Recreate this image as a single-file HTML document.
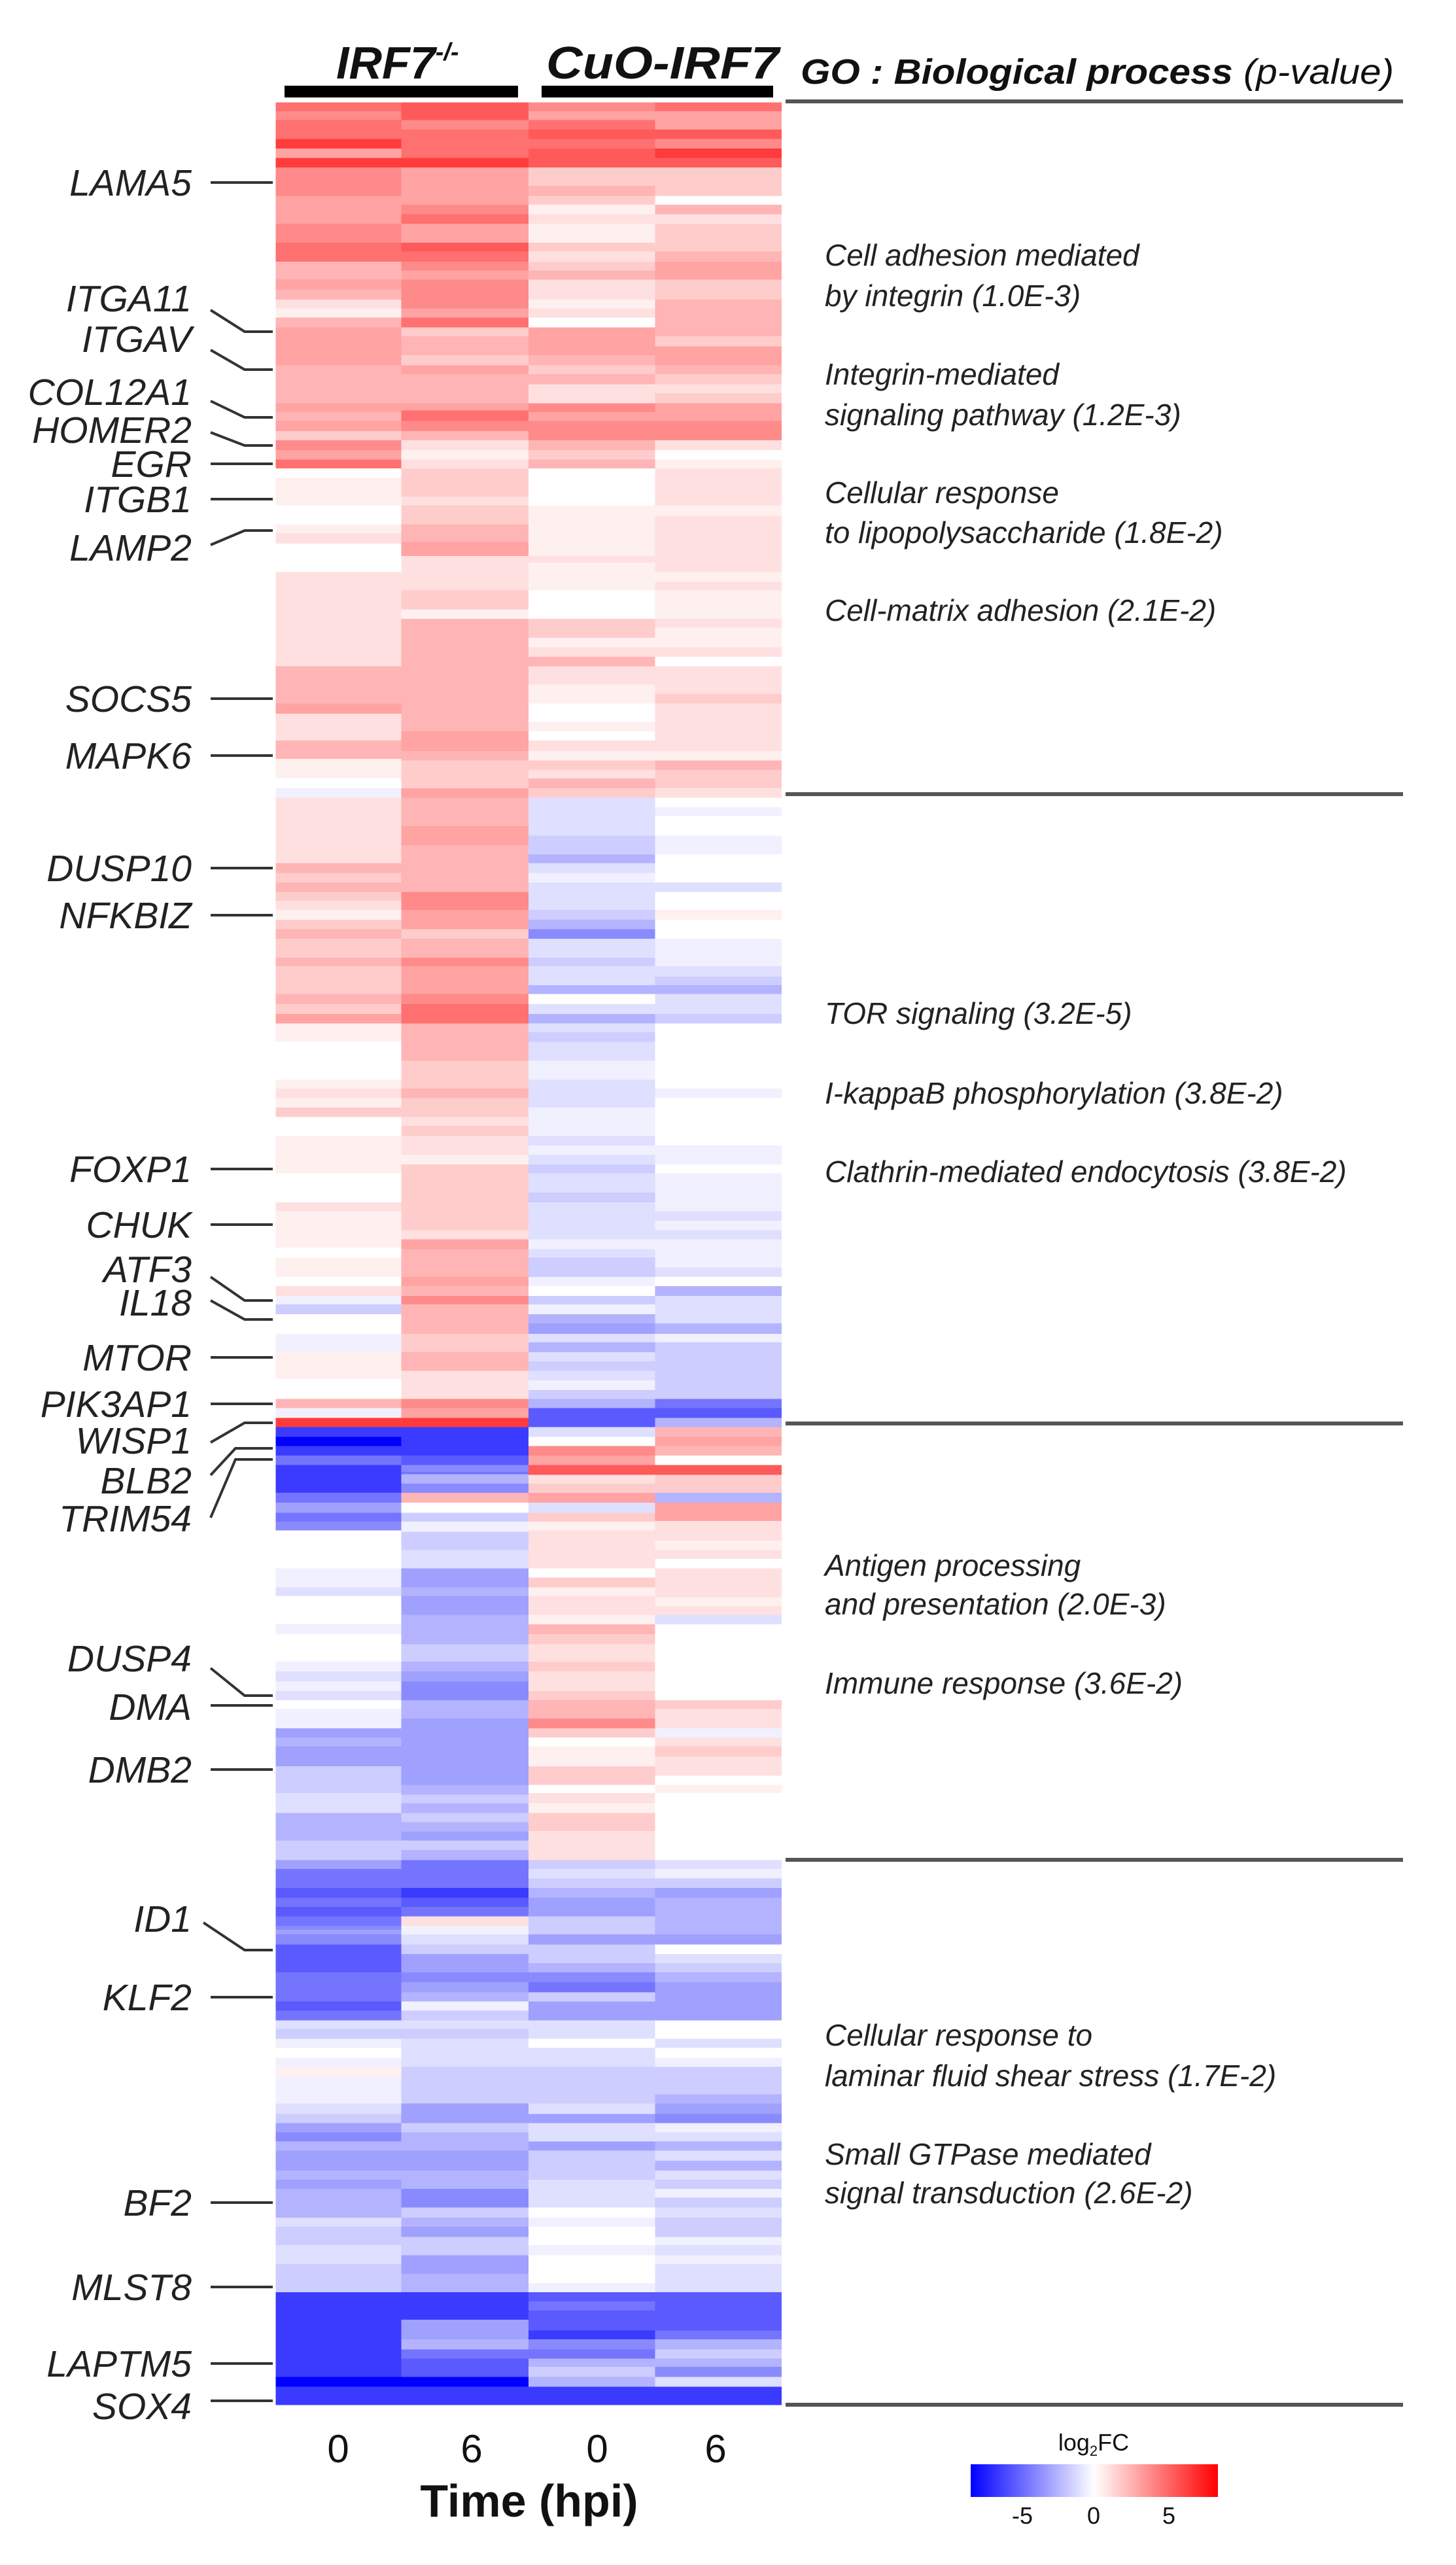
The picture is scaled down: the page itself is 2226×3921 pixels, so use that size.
<!DOCTYPE html>
<html><head><meta charset="utf-8">
<style>
html,body{margin:0;padding:0;background:#fff;}
svg{display:block;}
.r9{fill:#ff3b3b}.r8{fill:#ff5a5a}.r7{fill:#ff7070}.r6{fill:#ff8a8a}.r5{fill:#ffa3a3}.r4{fill:#ffb5b5}.r3{fill:#ffcccc}.r2{fill:#ffe0e0}.r1{fill:#fff0f0}
.b10{fill:#0000ff}.b9{fill:#3b3bff}.b8{fill:#5a5aff}.b7{fill:#7474ff}.b6{fill:#8a8aff}.b5{fill:#a0a0ff}.b4{fill:#b3b3ff}.b3{fill:#cdcdff}.b2{fill:#dfdfff}.b1{fill:#f0f0ff}
.g{font-family:"Liberation Sans",sans-serif;font-style:italic;font-size:57px;fill:#222;text-anchor:end}
.go{font-family:"Liberation Sans",sans-serif;font-style:italic;font-size:46px;fill:#222}
.t{font-family:"Liberation Sans",sans-serif;fill:#111}
</style></head>
<body>
<svg width="2226" height="3921" viewBox="0 0 2226 3921" xmlns="http://www.w3.org/2000/svg">
<rect width="2226" height="3921" fill="#fff"/>
<g shape-rendering="crispEdges">
<!-- chunk 1 -->
<g transform="translate(420,150) scale(0.5,0.4464)">
<rect class="r7" x="3" width="384" y="15" height="30"/><rect class="r6" x="3" width="384" y="45" height="30"/><rect class="r7" x="3" width="384" y="75" height="65"/><rect class="r9" x="3" width="384" y="140" height="32"/><rect class="r5" x="3" width="384" y="172" height="33"/><rect class="r9" x="3" width="384" y="205" height="33"/><rect class="r6" x="3" width="384" y="238" height="32"/><rect class="r6" x="3" width="384" y="270" height="65"/><rect class="r5" x="3" width="384" y="335" height="95"/><rect class="r6" x="3" width="384" y="430" height="65"/><rect class="r7" x="3" width="384" y="495" height="65"/><rect class="r4" x="3" width="384" y="560" height="60"/><rect class="r5" x="3" width="384" y="620" height="35"/><rect class="r4" x="3" width="384" y="655" height="35"/><rect class="r2" x="3" width="384" y="690" height="30"/><rect class="r1" x="3" width="384" y="720" height="32"/><rect class="r4" x="3" width="384" y="752" height="33"/><rect class="r5" x="3" width="384" y="785" height="95"/><rect class="r5" x="3" width="384" y="880" height="35"/><rect class="r4" x="3" width="384" y="915" height="130"/><rect class="r5" x="3" width="384" y="1045" height="30"/><rect class="r4" x="3" width="384" y="1075" height="30"/><rect class="r5" x="3" width="384" y="1105" height="35"/><rect class="r3" x="3" width="384" y="1140" height="32"/><rect class="r6" x="3" width="384" y="1172" height="33"/><rect class="r5" x="3" width="384" y="1205" height="33"/><rect class="r7" x="3" width="384" y="1238" height="30"/><rect class="r1" x="3" width="384" y="1300" height="95"/><rect class="r1" x="3" width="384" y="1460" height="30"/><rect class="r2" x="3" width="384" y="1490" height="35"/>
<rect class="r8" x="387" width="389" y="15" height="60"/><rect class="r6" x="387" width="389" y="75" height="33"/><rect class="r7" x="387" width="389" y="108" height="97"/><rect class="r9" x="387" width="389" y="205" height="33"/><rect class="r5" x="387" width="389" y="238" height="32"/><rect class="r5" x="387" width="389" y="270" height="95"/><rect class="r6" x="387" width="389" y="365" height="33"/><rect class="r7" x="387" width="389" y="398" height="32"/><rect class="r5" x="387" width="389" y="430" height="65"/><rect class="r8" x="387" width="389" y="495" height="30"/><rect class="r7" x="387" width="389" y="525" height="35"/><rect class="r6" x="387" width="389" y="560" height="30"/><rect class="r5" x="387" width="389" y="590" height="32"/><rect class="r6" x="387" width="389" y="622" height="98"/><rect class="r5" x="387" width="389" y="720" height="32"/><rect class="r7" x="387" width="389" y="752" height="33"/><rect class="r3" x="387" width="389" y="785" height="30"/><rect class="r4" x="387" width="389" y="815" height="65"/><rect class="r3" x="387" width="389" y="880" height="35"/><rect class="r5" x="387" width="389" y="915" height="30"/><rect class="r4" x="387" width="389" y="945" height="100"/><rect class="r5" x="387" width="389" y="1045" height="25"/><rect class="r7" x="387" width="389" y="1070" height="35"/><rect class="r6" x="387" width="389" y="1105" height="35"/><rect class="r4" x="387" width="389" y="1140" height="32"/><rect class="r2" x="387" width="389" y="1172" height="33"/><rect class="r1" x="387" width="389" y="1205" height="33"/><rect class="r2" x="387" width="389" y="1238" height="30"/><rect class="r3" x="387" width="389" y="1268" height="97"/><rect class="r2" x="387" width="389" y="1365" height="30"/><rect class="r3" x="387" width="389" y="1395" height="65"/><rect class="r4" x="387" width="389" y="1460" height="60"/><rect class="r5" x="387" width="389" y="1520" height="48"/>
<rect class="r6" x="776" width="387" y="15" height="30"/><rect class="r5" x="776" width="387" y="45" height="30"/><rect class="r7" x="776" width="387" y="75" height="33"/><rect class="r8" x="776" width="387" y="108" height="32"/><rect class="r7" x="776" width="387" y="140" height="32"/><rect class="r8" x="776" width="387" y="172" height="66"/><rect class="r3" x="776" width="387" y="238" height="62"/><rect class="r4" x="776" width="387" y="300" height="35"/><rect class="r3" x="776" width="387" y="335" height="30"/><rect class="r1" x="776" width="387" y="365" height="33"/><rect class="r2" x="776" width="387" y="398" height="32"/><rect class="r1" x="776" width="387" y="430" height="65"/><rect class="r3" x="776" width="387" y="495" height="30"/><rect class="r2" x="776" width="387" y="525" height="35"/><rect class="r3" x="776" width="387" y="560" height="30"/><rect class="r4" x="776" width="387" y="590" height="32"/><rect class="r2" x="776" width="387" y="622" height="68"/><rect class="r1" x="776" width="387" y="690" height="30"/><rect class="r2" x="776" width="387" y="720" height="32"/><rect class="r5" x="776" width="387" y="785" height="95"/><rect class="r4" x="776" width="387" y="880" height="35"/><rect class="r3" x="776" width="387" y="915" height="30"/><rect class="r4" x="776" width="387" y="945" height="35"/><rect class="r2" x="776" width="387" y="980" height="65"/><rect class="r6" x="776" width="387" y="1045" height="30"/><rect class="r5" x="776" width="387" y="1075" height="30"/><rect class="r6" x="776" width="387" y="1105" height="67"/><rect class="r4" x="776" width="387" y="1172" height="33"/><rect class="r3" x="776" width="387" y="1205" height="33"/><rect class="r4" x="776" width="387" y="1238" height="30"/><rect class="r1" x="776" width="387" y="1395" height="173"/>
<rect class="r7" x="1163" width="387" y="15" height="30"/><rect class="r5" x="1163" width="387" y="45" height="63"/><rect class="r8" x="1163" width="387" y="108" height="32"/><rect class="r6" x="1163" width="387" y="140" height="32"/><rect class="r9" x="1163" width="387" y="172" height="33"/><rect class="r8" x="1163" width="387" y="205" height="33"/><rect class="r3" x="1163" width="387" y="238" height="97"/><rect class="r4" x="1163" width="387" y="365" height="33"/><rect class="r2" x="1163" width="387" y="398" height="32"/><rect class="r3" x="1163" width="387" y="430" height="95"/><rect class="r4" x="1163" width="387" y="525" height="35"/><rect class="r5" x="1163" width="387" y="560" height="62"/><rect class="r3" x="1163" width="387" y="622" height="68"/><rect class="r4" x="1163" width="387" y="690" height="62"/><rect class="r4" x="1163" width="387" y="752" height="33"/><rect class="r4" x="1163" width="387" y="785" height="30"/><rect class="r3" x="1163" width="387" y="815" height="35"/><rect class="r5" x="1163" width="387" y="850" height="65"/><rect class="r4" x="1163" width="387" y="915" height="30"/><rect class="r3" x="1163" width="387" y="945" height="35"/><rect class="r2" x="1163" width="387" y="980" height="30"/><rect class="r3" x="1163" width="387" y="1010" height="35"/><rect class="r5" x="1163" width="387" y="1045" height="60"/><rect class="r6" x="1163" width="387" y="1105" height="67"/><rect class="r2" x="1163" width="387" y="1172" height="33"/><rect class="r1" x="1163" width="387" y="1238" height="30"/><rect class="r2" x="1163" width="387" y="1268" height="127"/><rect class="r1" x="1163" width="387" y="1395" height="35"/><rect class="r2" x="1163" width="387" y="1430" height="138"/>
</g>
<!-- chunk 2 -->
<g transform="translate(420,850) scale(0.5,0.4464)">
<rect class="r2" x="3" width="384" y="55" height="323"/><rect class="r4" x="3" width="384" y="378" height="127"/><rect class="r5" x="3" width="384" y="505" height="35"/><rect class="r2" x="3" width="384" y="540" height="92"/><rect class="r4" x="3" width="384" y="632" height="63"/><rect class="r1" x="3" width="384" y="695" height="65"/><rect class="b1" x="3" width="384" y="795" height="33"/><rect class="r2" x="3" width="384" y="828" height="224"/><rect class="r4" x="3" width="384" y="1052" height="33"/><rect class="r3" x="3" width="384" y="1085" height="33"/><rect class="r4" x="3" width="384" y="1118" height="32"/><rect class="r3" x="3" width="384" y="1150" height="30"/><rect class="r2" x="3" width="384" y="1180" height="32"/><rect class="r1" x="3" width="384" y="1212" height="33"/><rect class="r3" x="3" width="384" y="1245" height="33"/><rect class="r4" x="3" width="384" y="1278" height="32"/><rect class="r3" x="3" width="384" y="1310" height="65"/><rect class="r4" x="3" width="384" y="1375" height="30"/><rect class="r3" x="3" width="384" y="1405" height="95"/><rect class="r4" x="3" width="384" y="1500" height="35"/><rect class="r3" x="3" width="384" y="1535" height="33"/>
<rect class="r2" x="387" width="389" y="0" height="118"/><rect class="r3" x="387" width="389" y="118" height="65"/><rect class="r1" x="387" width="389" y="183" height="32"/><rect class="r4" x="387" width="389" y="215" height="325"/><rect class="r4" x="387" width="389" y="540" height="60"/><rect class="r5" x="387" width="389" y="600" height="68"/><rect class="r4" x="387" width="389" y="668" height="32"/><rect class="r3" x="387" width="389" y="700" height="95"/><rect class="r5" x="387" width="389" y="795" height="33"/><rect class="r4" x="387" width="389" y="828" height="97"/><rect class="r5" x="387" width="389" y="925" height="65"/><rect class="r4" x="387" width="389" y="990" height="128"/><rect class="r4" x="387" width="389" y="1118" height="32"/><rect class="r6" x="387" width="389" y="1150" height="62"/><rect class="r5" x="387" width="389" y="1212" height="66"/><rect class="r3" x="387" width="389" y="1278" height="32"/><rect class="r4" x="387" width="389" y="1310" height="65"/><rect class="r6" x="387" width="389" y="1375" height="30"/><rect class="r5" x="387" width="389" y="1405" height="95"/><rect class="r6" x="387" width="389" y="1500" height="35"/><rect class="r7" x="387" width="389" y="1535" height="33"/>
<rect class="r2" x="776" width="387" y="0" height="22"/><rect class="r1" x="776" width="387" y="22" height="96"/><rect class="r3" x="776" width="387" y="215" height="65"/><rect class="r1" x="776" width="387" y="280" height="32"/><rect class="r2" x="776" width="387" y="312" height="33"/><rect class="r4" x="776" width="387" y="345" height="33"/><rect class="r2" x="776" width="387" y="378" height="62"/><rect class="r1" x="776" width="387" y="440" height="65"/><rect class="r1" x="776" width="387" y="568" height="32"/><rect class="r2" x="776" width="387" y="632" height="36"/><rect class="r1" x="776" width="387" y="668" height="32"/><rect class="r3" x="776" width="387" y="700" height="32"/><rect class="r2" x="776" width="387" y="732" height="30"/><rect class="r4" x="776" width="387" y="762" height="33"/><rect class="r3" x="776" width="387" y="795" height="33"/><rect class="b2" x="776" width="387" y="828" height="130"/><rect class="b3" x="776" width="387" y="958" height="64"/><rect class="b4" x="776" width="387" y="1022" height="30"/><rect class="b2" x="776" width="387" y="1052" height="33"/><rect class="b1" x="776" width="387" y="1085" height="33"/><rect class="b2" x="776" width="387" y="1118" height="94"/><rect class="b3" x="776" width="387" y="1212" height="33"/><rect class="b4" x="776" width="387" y="1245" height="33"/><rect class="b6" x="776" width="387" y="1278" height="32"/><rect class="b2" x="776" width="387" y="1310" height="65"/><rect class="b3" x="776" width="387" y="1375" height="30"/><rect class="b2" x="776" width="387" y="1405" height="65"/><rect class="b4" x="776" width="387" y="1470" height="30"/><rect class="b2" x="776" width="387" y="1535" height="33"/>
<rect class="r2" x="1163" width="387" y="0" height="55"/><rect class="r1" x="1163" width="387" y="55" height="33"/><rect class="r2" x="1163" width="387" y="88" height="30"/><rect class="r1" x="1163" width="387" y="118" height="97"/><rect class="r2" x="1163" width="387" y="215" height="30"/><rect class="r1" x="1163" width="387" y="245" height="67"/><rect class="r2" x="1163" width="387" y="312" height="33"/><rect class="r2" x="1163" width="387" y="378" height="94"/><rect class="r3" x="1163" width="387" y="472" height="33"/><rect class="r2" x="1163" width="387" y="505" height="163"/><rect class="r1" x="1163" width="387" y="668" height="32"/><rect class="r4" x="1163" width="387" y="700" height="32"/><rect class="r3" x="1163" width="387" y="732" height="63"/><rect class="r2" x="1163" width="387" y="795" height="33"/><rect class="b1" x="1163" width="387" y="860" height="30"/><rect class="b1" x="1163" width="387" y="958" height="64"/><rect class="b2" x="1163" width="387" y="1118" height="32"/><rect class="r1" x="1163" width="387" y="1212" height="33"/><rect class="b1" x="1163" width="387" y="1310" height="95"/><rect class="b2" x="1163" width="387" y="1405" height="35"/><rect class="b3" x="1163" width="387" y="1440" height="30"/><rect class="b4" x="1163" width="387" y="1470" height="30"/><rect class="b2" x="1163" width="387" y="1500" height="68"/>
</g>
<!-- chunk 3 -->
<g transform="translate(420,1550) scale(0.5,0.4464)">
<rect class="r5" x="3" width="384" y="0" height="33"/><rect class="r1" x="3" width="384" y="33" height="62"/><rect class="r1" x="3" width="384" y="225" height="30"/><rect class="r2" x="3" width="384" y="255" height="33"/><rect class="r1" x="3" width="384" y="288" height="32"/><rect class="r3" x="3" width="384" y="320" height="33"/><rect class="r1" x="3" width="384" y="418" height="127"/><rect class="r2" x="3" width="384" y="645" height="30"/><rect class="r1" x="3" width="384" y="675" height="125"/><rect class="r1" x="3" width="384" y="835" height="65"/><rect class="r2" x="3" width="384" y="932" height="33"/><rect class="b1" x="3" width="384" y="965" height="30"/><rect class="b3" x="3" width="384" y="995" height="33"/><rect class="b1" x="3" width="384" y="1095" height="63"/><rect class="r1" x="3" width="384" y="1158" height="92"/><rect class="r4" x="3" width="384" y="1318" height="32"/><rect class="b1" x="3" width="384" y="1350" height="33"/><rect class="r9" x="3" width="384" y="1383" height="32"/><rect class="b9" x="3" width="384" y="1415" height="33"/><rect class="b10" x="3" width="384" y="1448" height="32"/><rect class="b9" x="3" width="384" y="1480" height="32"/><rect class="b7" x="3" width="384" y="1512" height="33"/><rect class="b9" x="3" width="384" y="1545" height="23"/>
<rect class="r7" x="387" width="389" y="0" height="33"/><rect class="r4" x="387" width="389" y="33" height="127"/><rect class="r3" x="387" width="389" y="160" height="95"/><rect class="r4" x="387" width="389" y="255" height="33"/><rect class="r3" x="387" width="389" y="288" height="65"/><rect class="r2" x="387" width="389" y="353" height="30"/><rect class="r3" x="387" width="389" y="383" height="35"/><rect class="r2" x="387" width="389" y="418" height="65"/><rect class="r1" x="387" width="389" y="483" height="32"/><rect class="r3" x="387" width="389" y="515" height="225"/><rect class="r2" x="387" width="389" y="740" height="32"/><rect class="r5" x="387" width="389" y="772" height="33"/><rect class="r4" x="387" width="389" y="805" height="30"/><rect class="r4" x="387" width="389" y="835" height="65"/><rect class="r5" x="387" width="389" y="900" height="32"/><rect class="r4" x="387" width="389" y="932" height="33"/><rect class="r6" x="387" width="389" y="965" height="30"/><rect class="r4" x="387" width="389" y="995" height="100"/><rect class="r3" x="387" width="389" y="1095" height="63"/><rect class="r4" x="387" width="389" y="1158" height="64"/><rect class="r2" x="387" width="389" y="1222" height="96"/><rect class="r6" x="387" width="389" y="1318" height="32"/><rect class="r5" x="387" width="389" y="1350" height="33"/><rect class="r9" x="387" width="389" y="1383" height="32"/><rect class="b9" x="387" width="389" y="1415" height="97"/><rect class="b8" x="387" width="389" y="1512" height="33"/><rect class="b6" x="387" width="389" y="1545" height="23"/>
<rect class="b4" x="776" width="387" y="0" height="33"/><rect class="b2" x="776" width="387" y="33" height="30"/><rect class="b3" x="776" width="387" y="63" height="32"/><rect class="b2" x="776" width="387" y="95" height="65"/><rect class="b1" x="776" width="387" y="160" height="65"/><rect class="b2" x="776" width="387" y="225" height="95"/><rect class="b1" x="776" width="387" y="320" height="98"/><rect class="b2" x="776" width="387" y="418" height="32"/><rect class="b1" x="776" width="387" y="450" height="33"/><rect class="b2" x="776" width="387" y="483" height="32"/><rect class="b3" x="776" width="387" y="515" height="30"/><rect class="b2" x="776" width="387" y="545" height="67"/><rect class="b3" x="776" width="387" y="612" height="33"/><rect class="b2" x="776" width="387" y="645" height="127"/><rect class="b1" x="776" width="387" y="772" height="33"/><rect class="b2" x="776" width="387" y="805" height="30"/><rect class="b3" x="776" width="387" y="835" height="65"/><rect class="b1" x="776" width="387" y="900" height="32"/><rect class="b3" x="776" width="387" y="965" height="30"/><rect class="b1" x="776" width="387" y="995" height="33"/><rect class="b4" x="776" width="387" y="1028" height="32"/><rect class="b5" x="776" width="387" y="1060" height="35"/><rect class="b2" x="776" width="387" y="1095" height="30"/><rect class="b4" x="776" width="387" y="1125" height="33"/><rect class="b2" x="776" width="387" y="1158" height="32"/><rect class="b3" x="776" width="387" y="1190" height="32"/><rect class="b2" x="776" width="387" y="1222" height="33"/><rect class="b1" x="776" width="387" y="1255" height="33"/><rect class="b3" x="776" width="387" y="1288" height="30"/><rect class="b4" x="776" width="387" y="1318" height="32"/><rect class="b8" x="776" width="387" y="1350" height="65"/><rect class="b2" x="776" width="387" y="1415" height="33"/><rect class="r6" x="776" width="387" y="1480" height="32"/><rect class="r5" x="776" width="387" y="1512" height="33"/><rect class="r8" x="776" width="387" y="1545" height="23"/>
<rect class="b3" x="1163" width="387" y="0" height="33"/><rect class="b1" x="1163" width="387" y="255" height="33"/><rect class="b1" x="1163" width="387" y="450" height="65"/><rect class="b1" x="1163" width="387" y="545" height="130"/><rect class="b2" x="1163" width="387" y="675" height="33"/><rect class="b1" x="1163" width="387" y="708" height="32"/><rect class="b2" x="1163" width="387" y="740" height="32"/><rect class="b1" x="1163" width="387" y="772" height="96"/><rect class="b2" x="1163" width="387" y="868" height="32"/><rect class="b4" x="1163" width="387" y="932" height="33"/><rect class="b2" x="1163" width="387" y="965" height="95"/><rect class="b4" x="1163" width="387" y="1060" height="35"/><rect class="b1" x="1163" width="387" y="1095" height="30"/><rect class="b3" x="1163" width="387" y="1125" height="193"/><rect class="b7" x="1163" width="387" y="1318" height="32"/><rect class="b8" x="1163" width="387" y="1350" height="33"/><rect class="b4" x="1163" width="387" y="1383" height="32"/><rect class="r4" x="1163" width="387" y="1415" height="33"/><rect class="r5" x="1163" width="387" y="1448" height="32"/><rect class="r4" x="1163" width="387" y="1480" height="32"/><rect class="r8" x="1163" width="387" y="1545" height="23"/>
</g>
<!-- chunk 4 -->
<g transform="translate(420,2250) scale(0.5,0.4464)">
<rect class="b9" x="3" width="384" y="0" height="72"/><rect class="b7" x="3" width="384" y="72" height="33"/><rect class="b5" x="3" width="384" y="105" height="35"/><rect class="b7" x="3" width="384" y="140" height="30"/><rect class="b6" x="3" width="384" y="170" height="30"/><rect class="b1" x="3" width="384" y="330" height="65"/><rect class="b2" x="3" width="384" y="395" height="30"/><rect class="b1" x="3" width="384" y="522" height="33"/><rect class="b1" x="3" width="384" y="650" height="33"/><rect class="b2" x="3" width="384" y="683" height="35"/><rect class="b1" x="3" width="384" y="718" height="32"/><rect class="b2" x="3" width="384" y="750" height="32"/><rect class="b1" x="3" width="384" y="812" height="66"/><rect class="b5" x="3" width="384" y="878" height="32"/><rect class="b4" x="3" width="384" y="910" height="30"/><rect class="b5" x="3" width="384" y="940" height="68"/><rect class="b3" x="3" width="384" y="1008" height="92"/><rect class="b2" x="3" width="384" y="1100" height="68"/><rect class="b4" x="3" width="384" y="1168" height="94"/><rect class="b3" x="3" width="384" y="1262" height="68"/><rect class="b5" x="3" width="384" y="1330" height="30"/><rect class="b7" x="3" width="384" y="1360" height="65"/><rect class="b8" x="3" width="384" y="1425" height="33"/><rect class="b7" x="3" width="384" y="1458" height="32"/><rect class="b8" x="3" width="384" y="1490" height="32"/><rect class="b7" x="3" width="384" y="1522" height="33"/><rect class="b6" x="3" width="384" y="1555" height="13"/>
<rect class="b7" x="387" width="389" y="0" height="8"/><rect class="b4" x="387" width="389" y="8" height="32"/><rect class="b6" x="387" width="389" y="40" height="32"/><rect class="r4" x="387" width="389" y="72" height="33"/><rect class="b3" x="387" width="389" y="140" height="30"/><rect class="b1" x="387" width="389" y="170" height="35"/><rect class="b3" x="387" width="389" y="205" height="63"/><rect class="b2" x="387" width="389" y="268" height="62"/><rect class="b5" x="387" width="389" y="330" height="65"/><rect class="b4" x="387" width="389" y="395" height="30"/><rect class="b5" x="387" width="389" y="425" height="65"/><rect class="b4" x="387" width="389" y="490" height="100"/><rect class="b3" x="387" width="389" y="590" height="60"/><rect class="b4" x="387" width="389" y="650" height="33"/><rect class="b5" x="387" width="389" y="683" height="35"/><rect class="b6" x="387" width="389" y="718" height="64"/><rect class="b4" x="387" width="389" y="782" height="63"/><rect class="b5" x="387" width="389" y="845" height="227"/><rect class="b4" x="387" width="389" y="1072" height="33"/><rect class="b3" x="387" width="389" y="1105" height="30"/><rect class="b4" x="387" width="389" y="1135" height="33"/><rect class="b3" x="387" width="389" y="1168" height="32"/><rect class="b4" x="387" width="389" y="1200" height="32"/><rect class="b5" x="387" width="389" y="1232" height="30"/><rect class="b3" x="387" width="389" y="1262" height="33"/><rect class="b4" x="387" width="389" y="1295" height="35"/><rect class="b7" x="387" width="389" y="1330" height="95"/><rect class="b9" x="387" width="389" y="1425" height="33"/><rect class="b8" x="387" width="389" y="1458" height="32"/><rect class="b7" x="387" width="389" y="1490" height="32"/><rect class="r2" x="387" width="389" y="1522" height="33"/><rect class="b1" x="387" width="389" y="1555" height="13"/>
<rect class="r8" x="776" width="387" y="0" height="10"/><rect class="r2" x="776" width="387" y="10" height="30"/><rect class="r3" x="776" width="387" y="40" height="32"/><rect class="r5" x="776" width="387" y="72" height="33"/><rect class="b2" x="776" width="387" y="105" height="35"/><rect class="r3" x="776" width="387" y="140" height="30"/><rect class="r1" x="776" width="387" y="170" height="30"/><rect class="r2" x="776" width="387" y="200" height="130"/><rect class="r3" x="776" width="387" y="362" height="33"/><rect class="r1" x="776" width="387" y="395" height="30"/><rect class="r2" x="776" width="387" y="425" height="65"/><rect class="r1" x="776" width="387" y="490" height="32"/><rect class="r4" x="776" width="387" y="522" height="33"/><rect class="r3" x="776" width="387" y="555" height="35"/><rect class="r2" x="776" width="387" y="590" height="60"/><rect class="r3" x="776" width="387" y="650" height="33"/><rect class="r2" x="776" width="387" y="683" height="67"/><rect class="r3" x="776" width="387" y="750" height="32"/><rect class="r4" x="776" width="387" y="782" height="63"/><rect class="r6" x="776" width="387" y="845" height="33"/><rect class="r3" x="776" width="387" y="878" height="32"/><rect class="r1" x="776" width="387" y="940" height="68"/><rect class="r3" x="776" width="387" y="1008" height="64"/><rect class="r2" x="776" width="387" y="1100" height="35"/><rect class="r1" x="776" width="387" y="1135" height="33"/><rect class="r3" x="776" width="387" y="1168" height="62"/><rect class="r2" x="776" width="387" y="1230" height="100"/><rect class="b3" x="776" width="387" y="1330" height="30"/><rect class="b2" x="776" width="387" y="1360" height="32"/><rect class="b3" x="776" width="387" y="1392" height="33"/><rect class="b4" x="776" width="387" y="1425" height="33"/><rect class="b5" x="776" width="387" y="1458" height="64"/><rect class="b3" x="776" width="387" y="1522" height="46"/>
<rect class="r8" x="1163" width="387" y="0" height="10"/><rect class="r3" x="1163" width="387" y="10" height="62"/><rect class="b4" x="1163" width="387" y="72" height="33"/><rect class="r5" x="1163" width="387" y="105" height="63"/><rect class="r2" x="1163" width="387" y="168" height="67"/><rect class="r1" x="1163" width="387" y="235" height="33"/><rect class="r2" x="1163" width="387" y="268" height="30"/><rect class="r2" x="1163" width="387" y="330" height="100"/><rect class="r1" x="1163" width="387" y="430" height="30"/><rect class="r2" x="1163" width="387" y="460" height="30"/><rect class="b2" x="1163" width="387" y="490" height="32"/><rect class="r3" x="1163" width="387" y="782" height="30"/><rect class="r2" x="1163" width="387" y="812" height="66"/><rect class="b1" x="1163" width="387" y="878" height="32"/><rect class="r2" x="1163" width="387" y="910" height="30"/><rect class="r3" x="1163" width="387" y="940" height="35"/><rect class="r2" x="1163" width="387" y="975" height="65"/><rect class="r1" x="1163" width="387" y="1072" height="28"/><rect class="b2" x="1163" width="387" y="1330" height="30"/><rect class="b1" x="1163" width="387" y="1360" height="32"/><rect class="b3" x="1163" width="387" y="1392" height="33"/><rect class="b5" x="1163" width="387" y="1425" height="33"/><rect class="b4" x="1163" width="387" y="1458" height="110"/>
</g>
<!-- chunk 5 -->
<g transform="translate(420,2950) scale(0.5,0.4656)">
<rect class="b5" x="3" width="384" y="0" height="15"/><rect class="b6" x="3" width="384" y="15" height="33"/><rect class="b8" x="3" width="384" y="48" height="92"/><rect class="b7" x="3" width="384" y="140" height="95"/><rect class="b8" x="3" width="384" y="235" height="30"/><rect class="b7" x="3" width="384" y="265" height="33"/><rect class="b2" x="3" width="384" y="298" height="27"/><rect class="b3" x="3" width="384" y="325" height="33"/><rect class="b1" x="3" width="384" y="358" height="30"/><rect class="b1" x="3" width="384" y="420" height="30"/><rect class="r1" x="3" width="384" y="450" height="32"/><rect class="b1" x="3" width="384" y="482" height="88"/><rect class="b2" x="3" width="384" y="570" height="35"/><rect class="b3" x="3" width="384" y="605" height="30"/><rect class="b5" x="3" width="384" y="635" height="30"/><rect class="b6" x="3" width="384" y="665" height="30"/><rect class="b4" x="3" width="384" y="695" height="30"/><rect class="b5" x="3" width="384" y="725" height="65"/><rect class="b4" x="3" width="384" y="790" height="30"/><rect class="b5" x="3" width="384" y="820" height="30"/><rect class="b4" x="3" width="384" y="850" height="95"/><rect class="b2" x="3" width="384" y="945" height="30"/><rect class="b3" x="3" width="384" y="975" height="60"/><rect class="b2" x="3" width="384" y="1035" height="63"/><rect class="b3" x="3" width="384" y="1098" height="92"/><rect class="b9" x="3" width="384" y="1190" height="278"/><rect class="b10" x="3" width="384" y="1468" height="32"/><rect class="b9" x="3" width="384" y="1500" height="60"/>
<rect class="b1" x="387" width="389" y="0" height="15"/><rect class="b2" x="387" width="389" y="15" height="33"/><rect class="b3" x="387" width="389" y="48" height="32"/><rect class="b5" x="387" width="389" y="80" height="60"/><rect class="b6" x="387" width="389" y="140" height="32"/><rect class="b5" x="387" width="389" y="172" height="33"/><rect class="b4" x="387" width="389" y="205" height="30"/><rect class="b1" x="387" width="389" y="235" height="30"/><rect class="b3" x="387" width="389" y="265" height="33"/><rect class="b2" x="387" width="389" y="298" height="27"/><rect class="b3" x="387" width="389" y="325" height="33"/><rect class="b2" x="387" width="389" y="358" height="92"/><rect class="b3" x="387" width="389" y="450" height="120"/><rect class="b5" x="387" width="389" y="570" height="65"/><rect class="b3" x="387" width="389" y="635" height="30"/><rect class="b4" x="387" width="389" y="665" height="60"/><rect class="b5" x="387" width="389" y="725" height="65"/><rect class="b4" x="387" width="389" y="790" height="60"/><rect class="b6" x="387" width="389" y="850" height="62"/><rect class="b3" x="387" width="389" y="912" height="33"/><rect class="b4" x="387" width="389" y="945" height="30"/><rect class="b5" x="387" width="389" y="975" height="33"/><rect class="b3" x="387" width="389" y="1008" height="60"/><rect class="b5" x="387" width="389" y="1068" height="62"/><rect class="b4" x="387" width="389" y="1130" height="60"/><rect class="b9" x="387" width="389" y="1190" height="90"/><rect class="b5" x="387" width="389" y="1280" height="65"/><rect class="b4" x="387" width="389" y="1345" height="33"/><rect class="b7" x="387" width="389" y="1378" height="30"/><rect class="b8" x="387" width="389" y="1408" height="60"/><rect class="b10" x="387" width="389" y="1468" height="32"/><rect class="b9" x="387" width="389" y="1500" height="60"/>
<rect class="b3" x="776" width="387" y="0" height="15"/><rect class="b5" x="776" width="387" y="15" height="33"/><rect class="b3" x="776" width="387" y="48" height="62"/><rect class="b4" x="776" width="387" y="110" height="30"/><rect class="b6" x="776" width="387" y="140" height="32"/><rect class="b7" x="776" width="387" y="172" height="33"/><rect class="b3" x="776" width="387" y="205" height="30"/><rect class="b5" x="776" width="387" y="235" height="63"/><rect class="b2" x="776" width="387" y="298" height="60"/><rect class="b2" x="776" width="387" y="388" height="62"/><rect class="b3" x="776" width="387" y="450" height="120"/><rect class="b2" x="776" width="387" y="570" height="35"/><rect class="b5" x="776" width="387" y="605" height="30"/><rect class="b2" x="776" width="387" y="635" height="60"/><rect class="b5" x="776" width="387" y="695" height="30"/><rect class="b3" x="776" width="387" y="725" height="95"/><rect class="b2" x="776" width="387" y="820" height="92"/><rect class="b1" x="776" width="387" y="945" height="30"/><rect class="b1" x="776" width="387" y="1035" height="33"/><rect class="b1" x="776" width="387" y="1160" height="30"/><rect class="b8" x="776" width="387" y="1190" height="30"/><rect class="b7" x="776" width="387" y="1220" height="30"/><rect class="b8" x="776" width="387" y="1250" height="65"/><rect class="b9" x="776" width="387" y="1315" height="30"/><rect class="b6" x="776" width="387" y="1345" height="33"/><rect class="b7" x="776" width="387" y="1378" height="30"/><rect class="b4" x="776" width="387" y="1408" height="27"/><rect class="b3" x="776" width="387" y="1435" height="33"/><rect class="b4" x="776" width="387" y="1468" height="32"/><rect class="b9" x="776" width="387" y="1500" height="60"/>
<rect class="b4" x="1163" width="387" y="0" height="15"/><rect class="b5" x="1163" width="387" y="15" height="33"/><rect class="b2" x="1163" width="387" y="80" height="30"/><rect class="b3" x="1163" width="387" y="110" height="30"/><rect class="b4" x="1163" width="387" y="140" height="32"/><rect class="b5" x="1163" width="387" y="172" height="126"/><rect class="b2" x="1163" width="387" y="358" height="30"/><rect class="b1" x="1163" width="387" y="420" height="30"/><rect class="b3" x="1163" width="387" y="450" height="90"/><rect class="b4" x="1163" width="387" y="540" height="30"/><rect class="b5" x="1163" width="387" y="570" height="35"/><rect class="b6" x="1163" width="387" y="605" height="30"/><rect class="b1" x="1163" width="387" y="635" height="30"/><rect class="b2" x="1163" width="387" y="665" height="30"/><rect class="b4" x="1163" width="387" y="695" height="30"/><rect class="b2" x="1163" width="387" y="725" height="33"/><rect class="b4" x="1163" width="387" y="758" height="32"/><rect class="b2" x="1163" width="387" y="790" height="30"/><rect class="b3" x="1163" width="387" y="820" height="30"/><rect class="b1" x="1163" width="387" y="850" height="30"/><rect class="b3" x="1163" width="387" y="880" height="32"/><rect class="b2" x="1163" width="387" y="912" height="33"/><rect class="b3" x="1163" width="387" y="945" height="63"/><rect class="b1" x="1163" width="387" y="1008" height="27"/><rect class="b2" x="1163" width="387" y="1035" height="33"/><rect class="b1" x="1163" width="387" y="1068" height="30"/><rect class="b2" x="1163" width="387" y="1098" height="92"/><rect class="b8" x="1163" width="387" y="1190" height="125"/><rect class="b7" x="1163" width="387" y="1315" height="30"/><rect class="b4" x="1163" width="387" y="1345" height="33"/><rect class="b3" x="1163" width="387" y="1378" height="30"/><rect class="b4" x="1163" width="387" y="1408" height="27"/><rect class="b6" x="1163" width="387" y="1435" height="33"/><rect class="b2" x="1163" width="387" y="1468" height="32"/><rect class="b9" x="1163" width="387" y="1500" height="60"/>
</g>
</g>

<!-- header -->
<text class="t" x="514" y="120" font-size="70" font-weight="bold" font-style="italic">IRF7<tspan font-size="38" dy="-28">-/-</tspan></text>
<rect x="435" y="131" width="357" height="18" fill="#000"/>
<text class="t" x="835" y="120" font-size="70" font-weight="bold" font-style="italic" textLength="356" lengthAdjust="spacingAndGlyphs">CuO-IRF7</text>
<rect x="828" y="131" width="354" height="18" fill="#000"/>
<text class="t" x="1224" y="128" font-size="54" font-style="italic" textLength="907" lengthAdjust="spacingAndGlyphs"><tspan font-weight="bold">GO : Biological process</tspan> (p-value)</text>

<!-- section lines -->
<g fill="#555">
<rect x="1201" y="152" width="944" height="6"/>
<rect x="1201" y="1211" width="944" height="6"/>
<rect x="1201" y="2173" width="944" height="6"/>
<rect x="1201" y="2840" width="944" height="6"/>
<rect x="1201" y="3673" width="944" height="6"/>
</g>

<!-- gene labels -->
<g class="g" font-family="Liberation Sans">
<text class="g" x="293" y="299">LAMA5</text>
<text class="g" x="293" y="476">ITGA11</text>
<text class="g" x="293" y="538">ITGAV</text>
<text class="g" x="293" y="619">COL12A1</text>
<text class="g" x="293" y="677">HOMER2</text>
<text class="g" x="293" y="729">EGR</text>
<text class="g" x="293" y="783">ITGB1</text>
<text class="g" x="293" y="857">LAMP2</text>
<text class="g" x="293" y="1088">SOCS5</text>
<text class="g" x="293" y="1175">MAPK6</text>
<text class="g" x="293" y="1347">DUSP10</text>
<text class="g" x="293" y="1419">NFKBIZ</text>
<text class="g" x="293" y="1807">FOXP1</text>
<text class="g" x="293" y="1892">CHUK</text>
<text class="g" x="293" y="1960">ATF3</text>
<text class="g" x="293" y="2011">IL18</text>
<text class="g" x="293" y="2095">MTOR</text>
<text class="g" x="293" y="2166">PIK3AP1</text>
<text class="g" x="293" y="2222">WISP1</text>
<text class="g" x="293" y="2283">BLB2</text>
<text class="g" x="293" y="2341">TRIM54</text>
<text class="g" x="293" y="2555">DUSP4</text>
<text class="g" x="293" y="2629">DMA</text>
<text class="g" x="293" y="2725">DMB2</text>
<text class="g" x="293" y="2953">ID1</text>
<text class="g" x="293" y="3073">KLF2</text>
<text class="g" x="293" y="3387">BF2</text>
<text class="g" x="293" y="3516">MLST8</text>
<text class="g" x="293" y="3633">LAPTM5</text>
<text class="g" x="293" y="3698">SOX4</text>
</g>
<g stroke="#333" stroke-width="4" fill="none">
<line x1="322" y1="279" x2="417" y2="279"/>
<polyline points="322,474 374,507 417,507"/>
<polyline points="322,535 374,565 417,565"/>
<polyline points="322,613 374,638 417,638"/>
<polyline points="322,661 374,681 417,681"/>
<line x1="322" y1="709" x2="417" y2="709"/>
<line x1="322" y1="763" x2="417" y2="763"/>
<polyline points="322,833 374,811 417,811"/>
<line x1="322" y1="1068" x2="417" y2="1068"/>
<line x1="322" y1="1155" x2="417" y2="1155"/>
<line x1="322" y1="1327" x2="417" y2="1327"/>
<line x1="322" y1="1399" x2="417" y2="1399"/>
<line x1="322" y1="1787" x2="417" y2="1787"/>
<line x1="322" y1="1872" x2="417" y2="1872"/>
<polyline points="322,1952 374,1988 417,1988"/>
<polyline points="322,1988 374,2017 417,2017"/>
<line x1="322" y1="2075" x2="417" y2="2075"/>
<line x1="322" y1="2146" x2="417" y2="2146"/>
<polyline points="322,2205 374,2175 417,2175"/>
<polyline points="322,2255 360,2214 417,2214"/>
<polyline points="322,2320 360,2231 417,2231"/>
<polyline points="322,2550 374,2592 417,2592"/>
<line x1="322" y1="2607" x2="417" y2="2607"/>
<line x1="322" y1="2705" x2="417" y2="2705"/>
<polyline points="311,2939 374,2981 417,2981"/>
<line x1="322" y1="3053" x2="417" y2="3053"/>
<line x1="322" y1="3367" x2="417" y2="3367"/>
<line x1="322" y1="3496" x2="417" y2="3496"/>
<line x1="322" y1="3613" x2="417" y2="3613"/>
<line x1="322" y1="3670" x2="417" y2="3670"/>
</g>

<!-- GO terms -->
<g>
<text class="go" x="1261" y="406">Cell adhesion mediated</text>
<text class="go" x="1261" y="468">by integrin (1.0E-3)</text>
<text class="go" x="1261" y="588">Integrin-mediated</text>
<text class="go" x="1261" y="650">signaling pathway (1.2E-3)</text>
<text class="go" x="1261" y="769">Cellular response</text>
<text class="go" x="1261" y="830">to lipopolysaccharide (1.8E-2)</text>
<text class="go" x="1261" y="949">Cell-matrix adhesion (2.1E-2)</text>
<text class="go" x="1261" y="1565">TOR signaling (3.2E-5)</text>
<text class="go" x="1261" y="1687">I-kappaB phosphorylation (3.8E-2)</text>
<text class="go" x="1261" y="1807">Clathrin-mediated endocytosis (3.8E-2)</text>
<text class="go" x="1261" y="2409">Antigen processing</text>
<text class="go" x="1261" y="2468">and presentation (2.0E-3)</text>
<text class="go" x="1261" y="2589">Immune response (3.6E-2)</text>
<text class="go" x="1261" y="3127">Cellular response to</text>
<text class="go" x="1261" y="3189">laminar fluid shear stress (1.7E-2)</text>
<text class="go" x="1261" y="3309">Small GTPase mediated</text>
<text class="go" x="1261" y="3368">signal transduction (2.6E-2)</text>
</g>

<!-- x axis -->
<g class="t" font-size="60" text-anchor="middle">
<text x="517" y="3764">0</text>
<text x="721" y="3764">6</text>
<text x="913" y="3764">0</text>
<text x="1094" y="3764">6</text>
</g>
<text class="t" x="809" y="3847" font-size="70" font-weight="bold" text-anchor="middle">Time (hpi)</text>

<!-- colorbar -->
<defs>
<linearGradient id="cb" x1="0" x2="1" y1="0" y2="0">
<stop offset="0" stop-color="#0000ff"/>
<stop offset="0.5" stop-color="#ffffff"/>
<stop offset="1" stop-color="#ff0000"/>
</linearGradient>
</defs>
<text class="t" x="1672" y="3746" font-size="36" text-anchor="middle">log<tspan font-size="22" dy="8">2</tspan><tspan dy="-8">FC</tspan></text>
<rect x="1484" y="3767" width="378" height="50" fill="url(#cb)"/>
<g class="t" font-size="36" text-anchor="middle">
<text x="1563" y="3858">-5</text>
<text x="1672" y="3858">0</text>
<text x="1787" y="3858">5</text>
</g>
</svg>
</body></html>
